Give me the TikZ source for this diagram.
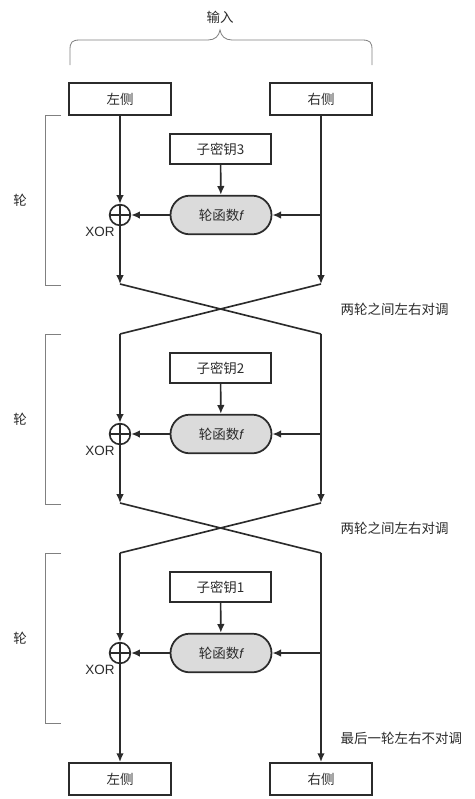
\documentclass[tikz,border=0pt]{standalone}
\usepackage{fontspec}
\setmainfont{Noto Sans CJK SC}
\newfontfamily\latinfont{Liberation Sans}
\usetikzlibrary{shapes,calc,arrows.meta}
\tikzstyle{blk}=[draw, line width=1.6pt, minimum width=3.06cm, minimum height=0.96cm, inner sep=0pt]
\tikzstyle{keybox}=[draw, line width=1.5pt, minimum width=3.03cm, minimum height=0.88cm, inner sep=0pt]
\tikzstyle{fbox}=[draw, line width=1.5pt, fill=black!14, rounded corners=0.58cm, minimum width=3.03cm, minimum height=1.16cm, inner sep=0pt]
\tikzstyle{xor}=[draw, circle, line width=1.4pt, minimum size=0.62cm, inner sep=0pt]
\tikzstyle{brk}=[draw=black!50, line width=0.7pt]
\newcommand{\fitalic}{{\latinfont\itshape f}}
\definecolor{ink}{HTML}{2B2B2B}

\begin{document}
\begin{tikzpicture}[x=0.03cm,y=-0.03cm,line width=1.4pt,draw=ink,text=ink,>={Latex[length=7.5pt,width=6.5pt]},font=\fontsize{11.5}{14}\selectfont]
\useasboundingbox (0,0) rectangle (475,799);
% input / output
\node (input) at (220,17) {输入};
\draw[brk] (70,65) -- (70,50) .. controls (70,42) and (72,40) .. (80,40) -- (208,40) .. controls (215,40) and (219,36) .. (220,30) .. controls (221,36) and (225,40) .. (232,40) -- (362,40) .. controls (370,40) and (372,42) .. (372,50) -- (372,65);
\node[blk] (inL) at (120,99) {左侧};
\node[blk] (inR) at (321,99) {右侧};
\node[blk] (outL) at (120,779) {左侧};
\node[blk] (outR) at (321,779) {右侧};
\coordinate (lt1) at (inL.south);
\coordinate (rt1) at (inR.south);
\foreach \k/\key [evaluate=\k as \s using 115+219*(\k-1)] in {1/3,2/2,3/1} {
	\ifnum\k>1
		\coordinate (lt\k) at (120,\s);
		\coordinate (rt\k) at (321,\s);
	\fi
	\ifnum\k<3
		\coordinate (lb\k) at (120,\s+169);
		\coordinate (rb\k) at (321,\s+169);
		\node[anchor=west] (swap\k) at (336,\s+194) {两轮之间左右对调};
	\else
		\coordinate (lb\k) at (outL.north);
		\coordinate (rb\k) at (outR.north);
		\node[anchor=west] (last) at (336,\s+185) {最后一轮左右不对调};
	\fi
	\node[keybox] (key\k) at (220.5,\s+34) {子密钥\key};
	\node[fbox] (f\k) at (221,\s+100) {轮函数\fitalic};
	\node[xor] (xor\k) at (120,\s+100) {};
	\node[font=\latinfont\fontsize{11.5}{13}\selectfont] (xl\k) at (100,\s+117) {XOR};
	\coordinate (fr\k) at (321,\s+100);
	\draw (xor\k.west) -- (xor\k.east);
	\draw (xor\k.north) -- (xor\k.south);
	\draw[->] (lt\k) -- (xor\k.north);
	\draw[->] (xor\k.south) -- (lb\k);
	\draw[->] (rt\k) -- (rb\k);
	\draw[->] (fr\k) -- (f\k.east);
	\draw[->] (f\k.west) -- (xor\k.east);
	\draw[->] (key\k) -- (f\k);
	% round bracket
	\draw[brk] (61,\s) -- (45,\s) -- (45,\s+170) -- (61,\s+170);
	\node (rl\k) at (20,\s+85) {轮};
}
\draw (lb1) -- (rt2);
\draw (rb1) -- (lt2);
\draw (lb2) -- (rt3);
\draw (rb2) -- (lt3);
\end{tikzpicture}
\end{document}
